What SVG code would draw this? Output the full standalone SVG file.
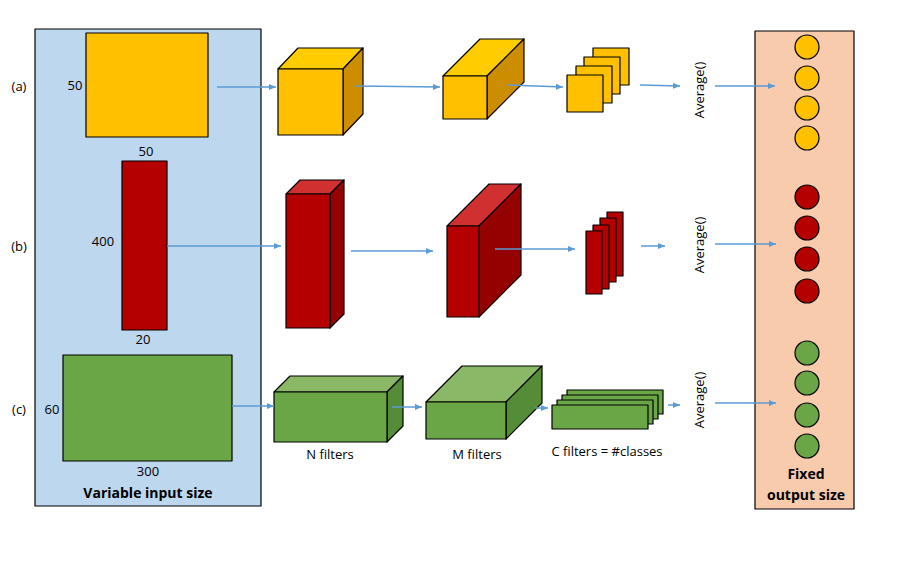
<svg xmlns="http://www.w3.org/2000/svg" width="900" height="563" viewBox="0 0 900 563">
<style>
text{font-family:"Open Sans","Liberation Sans",sans-serif;font-size:13px;fill:#000}
.b{font-weight:bold;font-size:14px}
.s{stroke:#000;stroke-width:1.2;stroke-linejoin:round}
.y1{fill:#FFC000}.y2{fill:#FFCC00}.y3{fill:#CC8E00}
.r1{fill:#B50000}.r2{fill:#D03030}.r3{fill:#950000}
.g1{fill:#6AA646}.g2{fill:#8BB866}.g3{fill:#558C38}
.c{stroke:#5B9BD5;stroke-width:1.5;fill:none;marker-end:url(#a)}
</style>
<defs><marker id="a" markerWidth="8" markerHeight="8" refX="7" refY="4" orient="auto" markerUnits="userSpaceOnUse"><path d="M0,1L7,4L0,7z" fill="#5B9BD5"/></marker></defs>
<rect width="900" height="563" fill="#fff"/>
<g id="input"><rect x="35" y="29" width="226" height="477" fill="#BDD7EE" class="s"/>
<rect x="86" y="33" width="122" height="104" class="s y1"/>
<rect x="122" y="161" width="45" height="169" class="s r1"/>
<rect x="63" y="355" width="169" height="106" class="s g1"/>
<text x="75" y="90" text-anchor="middle">50</text><text x="146" y="156" text-anchor="middle">50</text>
<text x="103" y="246" text-anchor="middle">400</text><text x="143" y="344" text-anchor="middle">20</text>
<text x="52" y="414" text-anchor="middle">60</text><text x="148" y="476" text-anchor="middle">300</text>
<text x="148" y="498" text-anchor="middle" class="b">Variable input size</text></g>
<g id="labels"><text x="19" y="91" text-anchor="middle">(a)</text><text x="19" y="251" text-anchor="middle">(b)</text><text x="19" y="414" text-anchor="middle">(c)</text></g>
<g id="output"><rect x="755" y="31" width="99" height="478" fill="#F8CBAD" class="s"/>
<g class="s y1"><circle cx="807" cy="47" r="12"/><circle cx="807" cy="78" r="12"/><circle cx="807" cy="108" r="12"/><circle cx="807" cy="138" r="12"/></g>
<g class="s r1"><circle cx="807" cy="197" r="12"/><circle cx="807" cy="228" r="12"/><circle cx="807" cy="259" r="12"/><circle cx="807" cy="291" r="12"/></g>
<g class="s g1"><circle cx="807" cy="353" r="12"/><circle cx="807" cy="383" r="12"/><circle cx="807" cy="415" r="12"/><circle cx="807" cy="446" r="12"/></g>
<text x="806" y="479" text-anchor="middle" class="b">Fixed</text><text x="806" y="500" text-anchor="middle" class="b">output size</text></g>
<g id="yellow">
<path d="M278,69L298,48H363L343,69Z" class="s y2"/><path d="M343,69L363,48V114L343,135Z" class="s y3"/><rect x="278" y="69" width="65" height="66" class="s y1"/>
<path d="M443,76L480,39H524L487,76Z" class="s y2"/><path d="M487,76L524,39V82L487,119Z" class="s y3"/><rect x="443" y="76" width="44" height="43" class="s y1"/>
<rect x="593" y="48" width="36" height="37" class="s y1"/><rect x="584" y="57" width="36" height="37" class="s y1"/><rect x="576" y="66" width="36" height="37" class="s y1"/><rect x="567" y="75" width="36" height="37" class="s y1"/></g>
<g id="red">
<path d="M286,194L300,180H344L330,194Z" class="s r2"/><path d="M330,194L344,180V314L330,328Z" class="s r3"/><rect x="286" y="194" width="44" height="134" class="s r1"/>
<path d="M447,226L489,184H521L479,226Z" class="s r2"/><path d="M479,226L521,184V275L479,317Z" class="s r3"/><rect x="447" y="226" width="32" height="91" class="s r1"/>
<rect x="607" y="212" width="16" height="64" class="s r1"/><rect x="600" y="218" width="16" height="64" class="s r1"/><rect x="593" y="225" width="16" height="64" class="s r1"/><rect x="586" y="231" width="16" height="63" class="s r1"/></g>
<g id="green">
<path d="M274,392L290,376H403L387,392Z" class="s g2"/><path d="M387,392L403,376V426L387,442Z" class="s g3"/><rect x="274" y="392" width="113" height="50" class="s g1"/>
<path d="M426,402L462,366H542L506,402Z" class="s g2"/><path d="M506,402L542,366V403L506,439Z" class="s g3"/><rect x="426" y="402" width="80" height="37" class="s g1"/>
<rect x="567" y="390" width="96" height="24" class="s g1"/><rect x="562" y="395" width="96" height="24" class="s g1"/><rect x="557" y="400" width="96" height="24" class="s g1"/><rect x="552" y="405" width="96" height="24" class="s g1"/>
<text x="330" y="459" text-anchor="middle">N filters</text><text x="477" y="459" text-anchor="middle">M filters</text><text x="607" y="456" text-anchor="middle">C filters = #classes</text></g>
<g id="avg"><text transform="translate(704,90) rotate(-90)" text-anchor="middle">Average()</text><text transform="translate(704,245) rotate(-90)" text-anchor="middle">Average()</text><text transform="translate(704,400) rotate(-90)" text-anchor="middle">Average()</text></g>
<g id="connectors">
<path class="c" d="M217,87H276"/><path class="c" d="M356,86L440,87"/><path class="c" d="M507,85L563,87"/><path class="c" d="M640,85L680,86"/><path class="c" d="M715,86H775"/>
<path class="c" d="M167,246H281"/><path class="c" d="M351,251H433"/><path class="c" d="M495,249H575"/><path class="c" d="M641,246H665"/><path class="c" d="M715,244L776,244"/>
<path class="c" d="M232,406H274"/><path class="c" d="M392,407H422"/><path class="c" d="M535,408H548"/><path class="c" d="M668,405H680"/><path class="c" d="M715,403H776"/>
</g>
</svg>
